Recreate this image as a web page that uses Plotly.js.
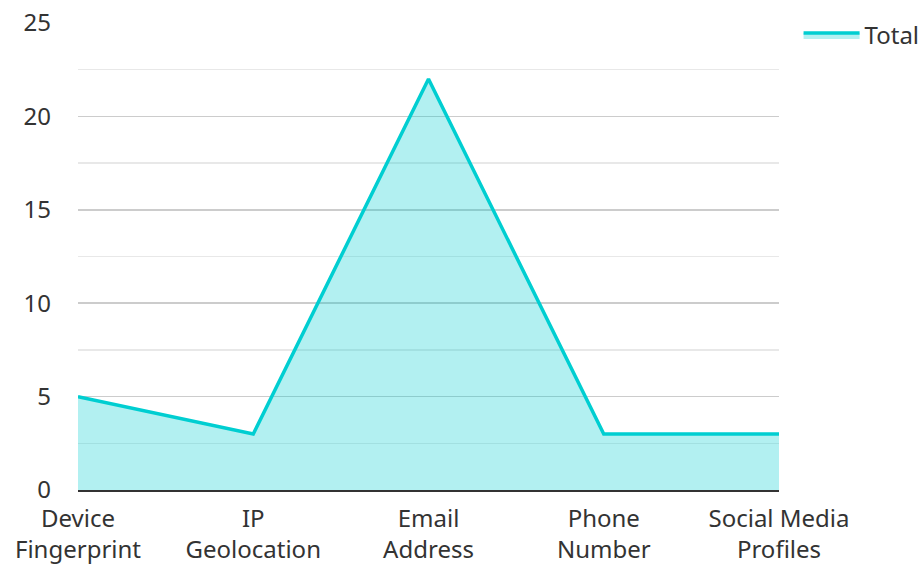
<!DOCTYPE html>
<html>
<head>
<meta charset="utf-8">
<script src="https://cdn.plot.ly/plotly-3.0.1.min.js"></script>
<style>html,body{margin:0;padding:0;background:#fff;}#chart{width:920px;height:564px;}</style>
</head>
<body>
<div id="chart"></div>
<script>
const categories = ["Device<br>Fingerprint", "IP<br>Geolocation", "Email<br>Address", "Phone<br>Number", "Social Media<br>Profiles"];
const totalValues = [5, 3, 22, 3, 3];
const seriesName = "Total";
const yTicks = [0, 5, 10, 15, 20, 25];

const trace = {
  x: categories,
  y: totalValues,
  name: seriesName,
  type: "scatter",
  mode: "lines",
  fill: "tozeroy",
  fillcolor: "rgba(0,206,209,0.3)",
  line: {color: "#00CED1", width: 3.5}
};

const layout = {
  width: 920, height: 564,
  margin: {l: 78, r: 141, t: 23, b: 74},
  paper_bgcolor: "#fff", plot_bgcolor: "#fff",
  font: {family: "Noto Sans, sans-serif", size: 24, color: "#333"},
  showlegend: true,
  legend: {xref: "container", yref: "container", x: 0.868, y: 0.977, xanchor: "left", yanchor: "top",
           itemwidth: 56, bgcolor: "rgba(0,0,0,0)", font: {size: 24, color: "#333"}},
  xaxis: {
    type: "category",
    range: [0, 4],
    automargin: false,
    showgrid: false,
    showline: true, linecolor: "#333", linewidth: 2,
    ticks: "", ticklabelstandoff: 6, tickfont: {size: 24, color: "#333"},
    zeroline: false
  },
  yaxis: {
    range: [0, 25],
    automargin: false,
    tickvals: yTicks,
    showgrid: true, gridcolor: "#ccc", gridwidth: 1.5,
    minor: {dtick: 2.5, showgrid: true, gridcolor: "#e8e8e8", gridwidth: 1.5},
    zeroline: false, showline: false,
    ticks: "", ticklabelstandoff: 26,
    tickfont: {size: 24, color: "#333"}
  }
};

Plotly.newPlot("chart", [trace], layout, {displayModeBar: false, staticPlot: true});
</script>
</body>
</html>
